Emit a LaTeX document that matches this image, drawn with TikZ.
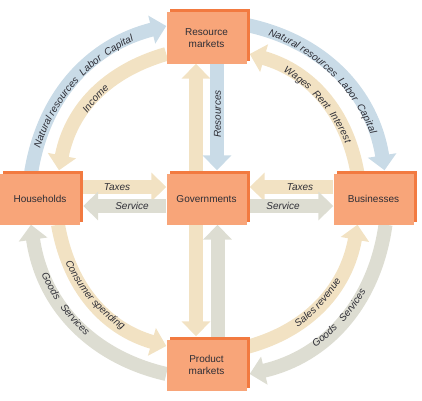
\documentclass[tikz,border=0pt]{standalone}
\usepackage{fontspec}
\setmainfont{Liberation Sans}
\usetikzlibrary{arrows.meta,shadows,backgrounds,decorations.text}

\definecolor{boxface}{HTML}{F8A579}
\definecolor{boxedge}{HTML}{F27A40}
\definecolor{flowblue}{HTML}{C9DBE7}
\definecolor{flowtan}{HTML}{F2E2C3}
\definecolor{flowgrey}{HTML}{DDDDD2}
\definecolor{inkgrey}{HTML}{2E2E36}

\newcommand{\flowlbl}{\fontsize{10}{11}\selectfont\itshape}

\tikzset{
  sector/.style={fill=boxface, minimum width=80pt, minimum height=51pt,
    inner sep=0pt, align=center, text=inkgrey, font=\fontsize{10}{12}\selectfont,
    general shadow={fill=boxedge, shadow xshift=3pt, shadow yshift=3pt}},
  flow/.style={line width=14pt, -{Triangle[width=28pt,length=15pt]}},
  flowtext/.style={font=\flowlbl, text=inkgrey, inner sep=0pt},
  arclabel/.style={decorate, decoration={text along path, text align=center,
    text color=inkgrey, text={|\flowlbl|#1}}},
}

\begin{document}
\begin{tikzpicture}[x=1pt, y=1pt]
  \useasboundingbox (0,0) rectangle (422,400);
  \coordinate (c) at (208,200);
  % ===== sectors =====
  \node[sector] (rm)  at (206.5,362) {Resource\\markets};
  \node[sector] (hh)  at (40,201)    {Households};
  \node[sector] (gov) at (206.5,201) {Governments};
  \node[sector] (bus) at (373.5,201) {Businesses};
  \node[sector] (pm)  at (206.5,35)  {Product\\markets};
  \begin{scope}[on background layer]
    % ===== factor market flows (upper half) =====
    \draw[flow, flowblue] ([xshift=-9pt]hh.north) to[out=81, in=194] ([yshift=12pt]rm.west);
    \draw[flow, flowtan] ([yshift=-16pt]rm.west) to[out=196, in=79] ([xshift=19pt,yshift=3pt]hh.north);
    \draw[flow, flowblue] ([yshift=13pt]rm.east) to[out=-12, in=99] ([xshift=11pt,yshift=3pt]bus.north);
    \draw[flow, flowtan] ([xshift=-16pt]bus.north) to[out=100, in=-16] ([xshift=3pt,yshift=-16pt]rm.east);
    % ===== product market flows (lower half) =====
    \draw[flow, flowtan] ([xshift=18pt]hh.south) to[out=280, in=164] ([yshift=19pt]pm.west);
    \draw[flow, flowgrey] ([yshift=-9pt]pm.west) to[out=167, in=278] ([xshift=-9pt]hh.south);
    \draw[flow, flowtan] ([yshift=18pt]pm.east) to[out=15, in=260] ([xshift=-16pt]bus.south);
    \draw[flow, flowgrey] ([xshift=12pt]bus.south) to[out=262, in=13] ([xshift=3pt,yshift=-9pt]pm.east);
    % ===== flows through governments =====
    \draw[flow, flowtan] ([yshift=12pt]hh.east) -- ([yshift=12pt]gov.west);
    \draw[flow, flowgrey] ([yshift=-7pt]gov.west) -- ([xshift=3pt,yshift=-7pt]hh.east);
    \draw[flow, flowtan] ([yshift=12pt]bus.west) -- ([xshift=3pt,yshift=12pt]gov.east);
    \draw[flow, flowgrey] ([yshift=-7pt]gov.east) -- ([yshift=-7pt]bus.west);
    \draw[flow, flowtan] ([xshift=-10.5pt]gov.north) -- ([xshift=-10.5pt]rm.south);
    \draw[flow, flowblue] ([xshift=10.5pt]rm.south) -- ([xshift=10.5pt,yshift=3pt]gov.north);
    \draw[flow, flowtan] ([xshift=-10.5pt]gov.south) -- ([xshift=-10.5pt,yshift=3pt]pm.north);
    \draw[flow, flowgrey] ([xshift=11pt]pm.north) -- ([xshift=11pt]gov.south);
  \end{scope}
  % ===== straight labels =====
  \node[flowtext] (taxL) at (117,213) {Taxes};
  \node[flowtext] (srvL) at (132,194) {Service};
  \node[flowtext] (taxR) at (300,213) {Taxes};
  \node[flowtext] (srvR) at (283,194) {Service};
  \node[flowtext, rotate=90] (res) at (217.5,286) {Resources};
  % ===== labels along the arcs =====
  \path[arclabel={Natural resources~~Labor~~Capital}] (c) ++(175:175.5) arc[start angle=175, end angle=103, radius=175.5];
  \path[arclabel={Income}] (c) ++(170:148.5) arc[start angle=170, end angle=106, radius=148.5];
  \path[arclabel={Natural resources~~Labor~~Capital}] (c) ++(82:175.5) arc[start angle=82, end angle=10, radius=175.5];
  \path[arclabel={Wages~~Rent~~Interest}] (c) ++(77:148.5) arc[start angle=77, end angle=5, radius=148.5];
  \path[arclabel={Consumer spending}] (c) ++(184:155.5) arc[start angle=184, end angle=256, radius=155.5];
  \path[arclabel={Goods~~~Services}] (c) ++(180:182.5) arc[start angle=180, end angle=252, radius=182.5];
  \path[arclabel={Sales revenue}] (c) ++(281:155.5) arc[start angle=281, end angle=353, radius=155.5];
  \path[arclabel={Goods~~~Services}] (c) ++(282:182.5) arc[start angle=282, end angle=354, radius=182.5];
\end{tikzpicture}
\end{document}
